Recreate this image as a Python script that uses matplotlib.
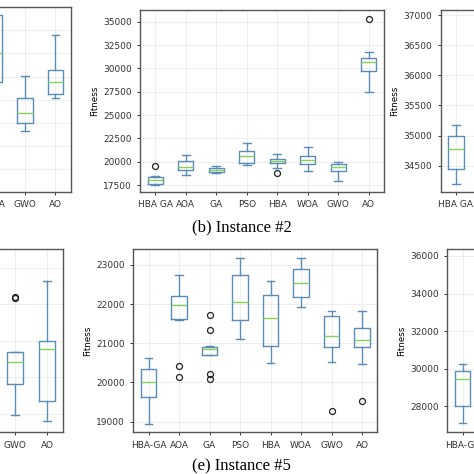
import matplotlib.pyplot as plt
import numpy as np

# ----- data -----
algos = ["HBA GA", "AOA", "GA", "PSO", "HBA", "WOA", "GWO", "AO"]
algos_dash = ["HBA-GA", "AOA", "GA", "PSO", "HBA", "WOA", "GWO", "AO"]

# instance 1 (only right part visible): WOA, GWO, AO
a_pos = [6, 7, 8]
a_whislo = [10200, 9321, 10036]
a_q1 = [10382, 9500, 10116]
a_med = [11000, 9704, 10382]
a_q3 = [11833, 10029, 10642]
a_whishi = [11950, 10512, 11400]
a_fliers = [[], [], []]

# instance 2
b_whislo = [17550, 18600, 18750, 19680, 19350, 18995, 17955, 27496]
b_q1 = [17600, 19130, 18930, 19895, 19820, 19778, 19027, 29683]
b_med = [18050, 19420, 19145, 20573, 20090, 20174, 19456, 30648]
b_q3 = [18400, 20070, 19359, 21180, 20340, 20636, 19746, 31141]
b_whishi = [18480, 20715, 19573, 21966, 20820, 21600, 19992, 31784]
b_fliers = [[19580], [], [], [], [18815], [], [], [35290]]

# instance 3 (only HBA GA visible)
c_whislo = [34190]
c_q1 = [34440]
c_med = [34785]
c_q3 = [35000]
c_whishi = [35170]

# instance 4 (only GWO, AO visible)
d_pos = [7, 8]
d_whislo = [15948, 15603]
d_q1 = [17666, 16714]
d_med = [18816, 19543]
d_q3 = [19396, 19981]
d_whishi = [19396, 23281]
d_fliers = [[22406, 22330], []]

# instance 5
e_whislo = [18949, 21590, 20690, 21111, 20506, 21920, 20531, 20465]
e_q1 = [19621, 21613, 20702, 21596, 20932, 22191, 20899, 20906]
e_med = [20021, 21979, 20847, 22055, 21639, 22532, 21180, 21085]
e_q3 = [20336, 22208, 20906, 22753, 22234, 22898, 21698, 21384]
e_whishi = [20634, 22736, 20920, 23170, 22599, 23187, 21818, 21834]
e_fliers = [[], [20430, 20149], [21723, 21349, 20208, 20081], [], [], [], [19272], [19519]]

# instance 6 (only HBA-GA visible)
f_whislo = [27097]
f_q1 = [28000]
f_med = [29453]
f_q3 = [29893]
f_whishi = [30265]

BOX_C = "#5b8cb8"
MED_C = "#86d05e"
W, H = 474, 474
FS = 6.5


def px_axes(fig, left, top, right, bottom):
    """add axes from pixel box (origin top-left)"""
    return fig.add_axes([left / W, 1 - bottom / H, (right - left) / W, (bottom - top) / H])


def stats(whislo, q1, med, q3, whishi, fliers=None):
    out = []
    for i in range(len(med)):
        out.append(dict(whislo=whislo[i], q1=q1[i], med=med[i], q3=q3[i], whishi=whishi[i],
                        fliers=fliers[i] if fliers else []))
    return out


def draw(ax, st, positions, labels, ylim, yticks):
    ax.bxp(st, positions=positions, widths=0.5, showfliers=True,
           boxprops=dict(color=BOX_C, linewidth=1.0),
           whiskerprops=dict(color=BOX_C, linewidth=1.0),
           capprops=dict(color=BOX_C, linewidth=1.0),
           medianprops=dict(color=MED_C, linewidth=1.0),
           flierprops=dict(marker="o", markersize=4.3, markerfacecolor="none",
                           markeredgecolor="#222222", markeredgewidth=0.9))
    ax.set_xlim(0.5, 8.5)
    ax.set_xticks(range(1, 9))
    ax.set_xticklabels(labels)
    ax.set_ylim(*ylim)
    if yticks is not None:
        ax.set_yticks(yticks)
    ax.grid(True, color="#ebebeb", linewidth=0.6)
    ax.set_axisbelow(True)
    ax.tick_params(labelsize=FS, colors="#333333", length=2.5, width=0.7)
    for s in ax.spines.values():
        s.set_color("#555555")
        s.set_linewidth(1.0)


fig = plt.figure(figsize=(4.74, 4.74), dpi=100)

ax_a = px_axes(fig, -173.3, 7.3, 70.7, 192)
draw(ax_a, stats(a_whislo, a_q1, a_med, a_q3, a_whishi, a_fliers), a_pos, algos, (8000, 12000), None)
ax_a.set_ylabel("Fitness", fontsize=6.3, labelpad=3)

ax_b = px_axes(fig, 140, 10, 384, 192)
draw(ax_b, stats(b_whislo, b_q1, b_med, b_q3, b_whishi, b_fliers), range(1, 9), algos,
     (16750, 36254), np.arange(17500, 35001, 2500))
ax_b.set_ylabel("Fitness", fontsize=6.3, labelpad=3)

ax_c = px_axes(fig, 440.7, 10, 684.7, 192)
draw(ax_c, stats(c_whislo, c_q1, c_med, c_q3, c_whishi), [1], algos, (34064, 37083),
     np.arange(34500, 37001, 500))
ax_c.set_ylabel("Fitness", fontsize=6.3, labelpad=3)

ax_d = px_axes(fig, -192.7, 249.3, 63.3, 432.3)
draw(ax_d, stats(d_whislo, d_q1, d_med, d_q3, d_whishi, d_fliers), d_pos, algos, (15000, 25000), None)
ax_d.set_ylabel("Fitness", fontsize=6.3, labelpad=3)

ax_e = px_axes(fig, 133.3, 249.3, 377.3, 432.3)
draw(ax_e, stats(e_whislo, e_q1, e_med, e_q3, e_whishi, e_fliers), range(1, 9), algos_dash,
     (18727, 23400), np.arange(19000, 23001, 1000))
ax_e.set_ylabel("Fitness", fontsize=6.3, labelpad=3)

ax_f = px_axes(fig, 447.3, 249.3, 691.3, 432.3)
draw(ax_f, stats(f_whislo, f_q1, f_med, f_q3, f_whishi), [1], algos_dash, (26604, 36356),
     np.arange(28000, 36001, 2000))
ax_f.set_ylabel("Fitness", fontsize=6.3, labelpad=3)

fig.text(241.7 / W, 1 - 227 / H, "(b) Instance #2", ha="center", va="center",
         family="Liberation Serif", fontsize=12)
fig.text(241.7 / W, 1 - 466 / H, "(e) Instance #5", ha="center", va="center",
         family="Liberation Serif", fontsize=12)

fig.savefig("out.png", dpi=100)
